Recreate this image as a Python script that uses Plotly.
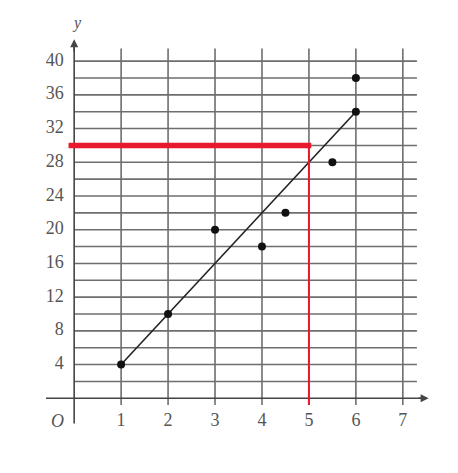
import plotly.graph_objects as go

pts_x = [1, 2, 3, 4, 4.5, 5.5, 6, 6]
pts_y = [4, 10, 20, 18, 22, 28, 34, 38]
fit_x = [1, 6]
fit_y = [4, 34]
x_ticks = [1, 2, 3, 4, 5, 6, 7]
y_ticks = [4, 8, 12, 16, 20, 24, 28, 32, 36, 40]
y_grid = list(range(2, 42, 2))
red_y = 30
red_x = 5

fig = go.Figure()
gc = "#6e6e6e"
gx, gy = [], []
for v in x_ticks:
    gx += [v, v, None]; gy += [-0.8, 41.5, None]
fig.add_trace(go.Scatter(x=gx, y=gy, mode="lines", line=dict(color=gc, width=1.6), hoverinfo="skip"))
hx, hy = [], []
for v in y_grid:
    hx += [0, 7.3, None]; hy += [v, v, None]
fig.add_trace(go.Scatter(x=hx, y=hy, mode="lines", line=dict(color=gc, width=1.6), hoverinfo="skip"))
fig.add_trace(go.Scatter(x=[-0.6, 7.4], y=[0, 0], mode="lines", line=dict(color="#444", width=1.6), hoverinfo="skip"))
fig.add_trace(go.Scatter(x=[0, 0], y=[-3, 42], mode="lines", line=dict(color="#444", width=1.6), hoverinfo="skip"))
fig.add_annotation(x=7.55, y=0, ax=7.3, ay=0, axref="x", ayref="y", showarrow=True, arrowhead=2, arrowsize=1, arrowwidth=1.6, arrowcolor="#444", text="")
fig.add_annotation(x=0, y=42.6, ax=0, ay=41, axref="x", ayref="y", showarrow=True, arrowhead=2, arrowsize=1, arrowwidth=1.6, arrowcolor="#444", text="")
serif = "Liberation Serif"
fig.add_annotation(x=7.8, y=0.2, text="<i>x</i>", showarrow=False, font=dict(family=serif, size=18, color="#555"))
fig.add_annotation(x=0.05, y=44.5, text="<i>y</i>", showarrow=False, font=dict(family=serif, size=16, color="#555"))
fig.add_annotation(x=-0.35, y=-2.7, text="<i>O</i>", showarrow=False, font=dict(family=serif, size=18, color="#555"))
fig.add_trace(go.Scatter(x=x_ticks, y=[-2.8]*len(x_ticks), mode="text", text=[str(v) for v in x_ticks],
                         textfont=dict(family=serif, size=18, color="#555"), hoverinfo="skip"))
fig.add_trace(go.Scatter(x=[-0.22]*len(y_ticks), y=y_ticks, mode="text", text=[str(v) for v in y_ticks],
                         textposition="middle left", textfont=dict(family=serif, size=18, color="#555"), hoverinfo="skip"))
fig.add_trace(go.Scatter(x=fit_x, y=fit_y, mode="lines", line=dict(color="#222", width=1.6), hoverinfo="skip"))
fig.add_trace(go.Scatter(x=pts_x, y=pts_y, mode="markers", marker=dict(color="#111", size=8)))
fig.add_trace(go.Scatter(x=[-0.12, 5.05], y=[red_y, red_y], mode="lines", line=dict(color="#e8192c", width=5.5), hoverinfo="skip"))
fig.add_trace(go.Scatter(x=[red_x, red_x], y=[-0.8, red_y], mode="lines", line=dict(color="#e8192c", width=2), hoverinfo="skip"))

fig.update_layout(width=458, height=473, showlegend=False, plot_bgcolor="white", paper_bgcolor="white",
                  margin=dict(l=38, r=35, t=11, b=49),
                  xaxis=dict(range=[-0.6, 7.6], visible=False),
                  yaxis=dict(range=[-4, 45], visible=False))
fig.write_html("out.html")
